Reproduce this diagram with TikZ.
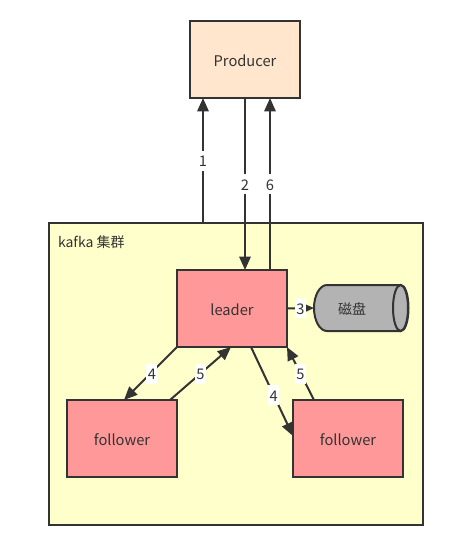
\documentclass[tikz,border=0pt]{standalone}
\usepackage{fontspec}
\setmainfont{Noto Sans CJK SC}
\usetikzlibrary{arrows.meta,calc}
\definecolor{linegray}{HTML}{333333}
\definecolor{clusterbg}{HTML}{FFFFCC}
\definecolor{producerbg}{HTML}{FFE6CC}
\definecolor{brokerbg}{HTML}{FF9999}
\definecolor{diskbg}{HTML}{B3B3B3}
\tikzset{
    every picture/.style={line width=1.5pt},
    box/.style={draw=linegray, rectangle, outer sep=0pt, inner sep=0pt, minimum width=82.5pt, minimum height=57.75pt, text=linegray, text height=11pt, text depth=0.8pt, font=\fontsize{11pt}{12pt}\selectfont},
    link/.style={draw=linegray, -{Triangle[length=10pt,width=8.5pt]}},
    lbl/.style={fill=white, text=linegray, inner xsep=1pt, inner ysep=0.5pt, text height=11.5pt, text depth=2.5pt, font=\fontsize{11pt}{12pt}\selectfont}
}

\begin{document}
\begin{tikzpicture}[x=0.75pt,y=-0.75pt]
    \useasboundingbox (0,0) rectangle (464,546);

    % 集群背景
    \node[box, fill=clusterbg, minimum width=280.5pt, minimum height=226.5pt] (cluster) at (236,374) {};
    \node[text=linegray, anchor=west, inner sep=0pt, font=\fontsize{10.5pt}{12pt}\selectfont] (clustername) at (57,242) {kafka 集群};

    % 各个节点
    \node[box, fill=producerbg] (producer) at (245,59.5) {Producer};
    \node[box, fill=brokerbg] (leader) at (232,308.5) {leader};
    \node[box, fill=brokerbg] (followerA) at (122,438.5) {follower};
    \node[box, fill=brokerbg] (followerB) at (348,438.5) {follower};

    % 磁盘
    \coordinate (disk) at (314,308);
    \draw[draw=linegray, fill=diskbg] (327,285) -- (401,285) arc[start angle=-90, end angle=90, x radius=7.5, y radius=23] -- (327,331) arc[start angle=90, end angle=270, x radius=13, y radius=23] -- cycle;
    \draw[draw=linegray, fill=diskbg] (400.5,308) ellipse[x radius=7.5, y radius=23];
    \node[text=linegray, font=\fontsize{10.5pt}{12pt}\selectfont] (diskname) at (352,309) {磁盘};

    % 生产者与 leader 之间
    \draw[link] ($(cluster.north)+(-33,0)$) -- node[lbl] (labelA) {1} ($(producer.south)+(-42,0)$);
    \draw[link] (producer.south) -- node[lbl] (labelB) {2} ($(leader.north)+(13,0)$);
    \draw[link] ($(leader.north)+(38,0)$) -- node[lbl] (labelF) {6} ($(producer.south)+(25,0)$);

    % 写入磁盘
    \draw[link] (leader.east) -- node[lbl] (labelC) {3} (disk);

    % leader 与 follower 之间
    \draw[link] (leader.south west) -- node[lbl, xshift=1pt] (labelD) {4} ($(followerA.north)+(2,0)$);
    \draw[link] ($(followerA.north east)+(-7,0)$) -- node[lbl] (labelE) {5} ($(leader.south)+(-1,0)$);
    \draw[link] ($(leader.south)+(19,0)$) -- node[lbl, pos=0.54] (labelG) {4} ($(followerB.west)+(0,-2.5)$);
    \draw[link] ($(followerB.north)+(-34,0)$) -- node[lbl] (labelH) {5} (leader.south east);
\end{tikzpicture}
\end{document}
